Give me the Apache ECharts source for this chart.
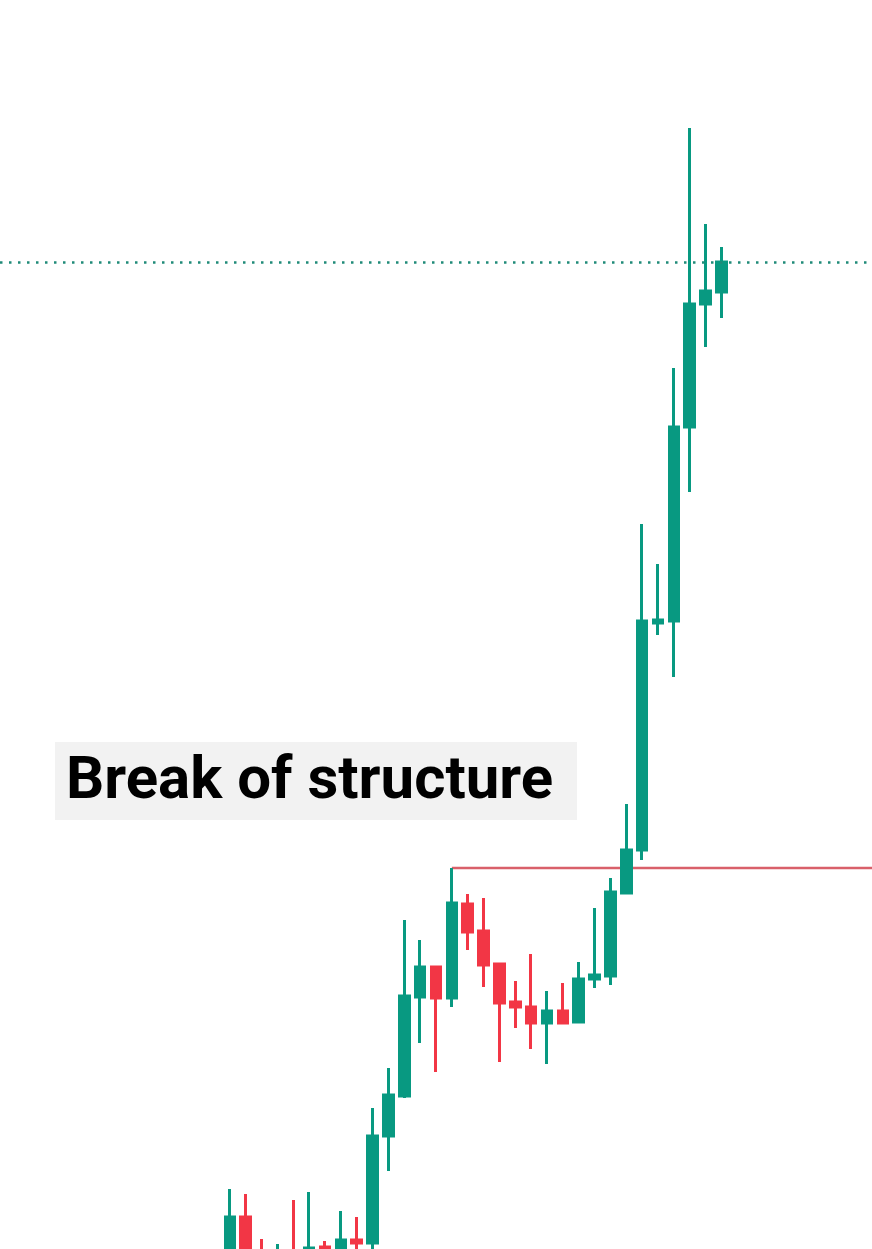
<!DOCTYPE html>
<html>
<head>
<meta charset="utf-8">
<script src="https://cdn.jsdelivr.net/npm/echarts@6/dist/echarts.min.js"></script>
<style>
html,body{margin:0;padding:0;background:#fff;}
#chart{width:872px;height:1249px;}
</style>
</head>
<body>
<div id="chart"></div>
<script>
// number of empty slots before the first visible candle and total slots
const leadingEmpty = 14;
const totalSlots = 55;
// candles: [open, close, low, high]
const candles = [
  [97.4, 103.2, 95.9, 106.0],
  [103.2, 98.7, 97.9, 105.5],
  [99.7, 97.4, 96.9, 101.0],
  [96.4, 98.9, 95.9, 100.5],
  [99.1, 96.9, 95.9, 104.9],
  [99.7, 100.1, 98.4, 105.7],
  [100.2, 99.9, 98.9, 100.8],
  [98.7, 100.9, 98.1, 103.8],
  [100.9, 100.6, 99.4, 103.2],
  [100.6, 111.3, 100.0, 114.1],
  [111.3, 115.4, 107.8, 118.1],
  [115.3, 125.3, 115.1, 132.9],
  [125.2, 128.2, 120.6, 130.9],
  [128.2, 125.1, 117.7, 128.2],
  [125.1, 134.6, 124.2, 138.1],
  [134.5, 131.7, 129.9, 135.5],
  [131.8, 128.4, 126.2, 135.1],
  [128.5, 124.6, 118.7, 128.5],
  [124.7, 124.2, 122.1, 126.8],
  [124.2, 122.6, 120.0, 129.5],
  [122.6, 123.8, 118.5, 125.8],
  [123.8, 122.6, 122.5, 126.6],
  [122.7, 127.0, 122.7, 128.7],
  [127.0, 127.4, 126.1, 134.1],
  [127.3, 135.7, 126.4, 137.1],
  [135.6, 139.9, 135.6, 144.5],
  [139.9, 162.8, 138.9, 172.5],
  [162.6, 162.9, 161.4, 168.5],
  [162.8, 182.2, 157.2, 188.1],
  [182.2, 194.5, 175.7, 212.1],
  [194.5, 195.8, 190.2, 202.5],
  [195.7, 198.7, 193.1, 200.2]
];
const lastPrice = 198.7;       // dotted level
const structureHigh = 138.1;   // broken swing high
const structureIndex = 14;     // candle index (within candles) of swing high
const labelText = 'Break of structure';
const yMin = 100.0, yMax = 224.9;

const categories = [];
const seriesData = [];
for (let i = 0; i < totalSlots; i++) {
  categories.push('c' + i);
  const k = i - leadingEmpty;
  seriesData.push(k >= 0 && k < candles.length ? candles[k] : '-');
}
const bosStart = leadingEmpty + structureIndex + 0.5;

const chart = echarts.init(document.getElementById('chart'), null, {renderer: 'canvas'});
chart.setOption({
  animation: false,
  backgroundColor: '#ffffff',
  grid: {left: 0, right: 0, top: 0, bottom: 0},
  xAxis: [
    {type: 'category', data: categories, show: false, boundaryGap: true},
    {type: 'value', min: 0, max: totalSlots, show: false}
  ],
  yAxis: {type: 'value', min: yMin, max: yMax, show: false, splitLine: {show: false}},
  series: [
    {
      type: 'candlestick',
      data: seriesData,
      barWidth: 10,
      itemStyle: {
        color: '#089981', color0: '#F23645',
        borderColor: '#089981', borderColor0: '#F23645',
        borderWidth: 3
      },
      markLine: {
        silent: true, symbol: 'none',
        label: {show: false},
        lineStyle: {color: '#1f8a78', width: 2.5, type: [2.5, 6.5]},
        data: [{yAxis: lastPrice}]
      },
      z: 3
    },
    {
      type: 'line',
      xAxisIndex: 1,
      data: [[bosStart, structureHigh], [totalSlots, structureHigh]],
      symbol: 'none',
      lineStyle: {color: '#d9606a', width: 2.5},
      silent: true,
      z: 2
    }
  ],
  graphic: [
    {
      type: 'rect', left: 55, top: 742, z: 10,
      shape: {width: 522, height: 78},
      style: {fill: '#f2f2f2'}
    },
    {
      type: 'text', left: 66, top: 753, z: 11,
      style: {text: labelText, font: 'bold 60px Roboto', fill: '#000000'}
    }
  ]
});
</script>
</body>
</html>
